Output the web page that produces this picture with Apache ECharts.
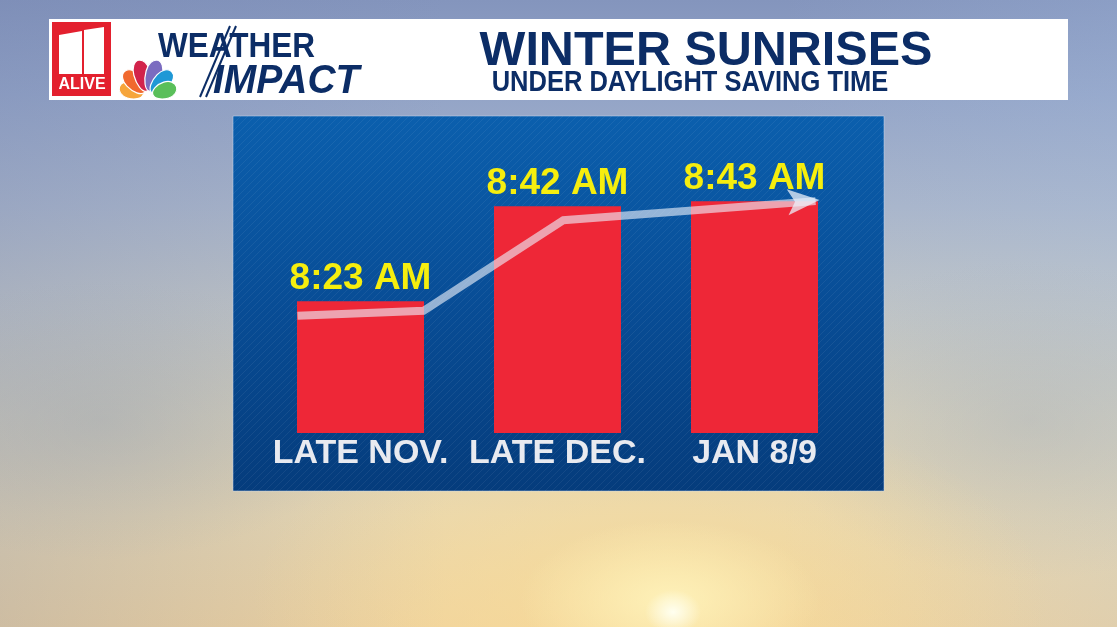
<!DOCTYPE html>
<html>
<head>
<meta charset="utf-8">
<script src="https://cdn.jsdelivr.net/npm/echarts@6/dist/echarts.min.js"></script>
<style>
html,body{margin:0;padding:0;width:1117px;height:627px;overflow:hidden;}
#chart{width:1117px;height:627px;
background:
 radial-gradient(ellipse 28px 22px at 673px 612px, rgba(255,255,240,1), rgba(255,250,215,0) 100%),
 radial-gradient(ellipse 150px 80px at 670px 600px, rgba(255,245,190,0.85), rgba(255,240,180,0) 100%),
 radial-gradient(ellipse 400px 200px at 650px 600px, rgba(252,222,150,0.7), rgba(252,222,150,0) 100%),
 radial-gradient(ellipse 260px 140px at 100px 420px, rgba(150,160,175,0.35), rgba(150,160,175,0) 100%),
 radial-gradient(ellipse 260px 160px at 1030px 420px, rgba(160,168,180,0.35), rgba(160,168,180,0) 100%),
 linear-gradient(to right, rgba(110,125,170,0.25) 0%, rgba(255,255,255,0) 40%, rgba(255,255,255,0) 70%, rgba(170,195,230,0.2) 100%),
 linear-gradient(to bottom, #8495bd 0%, #93a4c7 15%, #a9b5ca 33%, #c1c5c5 50%, #d9d2bb 66%, #e8d7b0 82%, #eed29f 100%);
}
</style>
</head>
<body>
<div id="chart"></div>
<script>
// ---- data ----
const categories = ['LATE NOV.', 'LATE DEC.', 'JAN 8/9'];
const sunriseMinutes = [503, 522, 523];          // minutes after midnight: 8:23, 8:42, 8:43
const trendX = [0.18, 0.82, 1.53, 2.81];          // arrow path, in category units
const trendY = [500.1, 501.1, 519.2, 523.0];      // arrow path, in minutes after midnight
const titleText = 'WINTER SUNRISES';
const subtitleText = 'UNDER DAYLIGHT SAVING TIME';

function fmtTime(v){
  const h = Math.floor(v / 60), m = v % 60;
  return h + ':' + String(m).padStart(2, '0') + ' AM';
}

const chart = echarts.init(document.getElementById('chart'), null, {renderer:'canvas'});

// hatch pattern for the panel
const pc = document.createElement('canvas');
pc.width = 7; pc.height = 7;
const pctx = pc.getContext('2d');
pctx.strokeStyle = 'rgba(255,255,255,0.06)';
pctx.lineWidth = 1;
pctx.beginPath(); pctx.moveTo(0,7); pctx.lineTo(7,0); pctx.stroke();

// peacock feathers
const feathers = [];
const fColors = ['#f6a53b', '#f1692f', '#d2234b', '#7b6cc0', '#1f98d6', '#5abf5a'];
const fAngles = [-72, -44, -15, 15, 44, 72];
const fLen = [30, 34, 37, 37, 34, 30];
const bx = 148, by = 96;
fAngles.forEach((a, i) => {
  const r = a * Math.PI / 180;
  const dx = Math.sin(r), dy = -Math.cos(r);
  const nx = Math.cos(r), ny = Math.sin(r);
  const L = fLen[i], w = 8.3;
  const pts = [
    [bx + dx*5, by + dy*5],
    [bx + dx*L*0.64 + nx*w, by + dy*L*0.64 + ny*w],
    [bx + dx*L, by + dy*L],
    [bx + dx*L*0.64 - nx*w, by + dy*L*0.64 - ny*w]
  ];
  feathers.push({type:'polygon', shape:{points:pts, smooth:0.55}, style:{fill:fColors[i], stroke:'#ffffff', lineWidth:1.2}, z:3});
});

const navy = '#0c2d66';

const graphics = [
  // header bar
  {type:'rect', shape:{x:49, y:19, width:1019, height:81}, style:{fill:'#ffffff'}, z:1},
  // 11 ALIVE logo
  {type:'rect', shape:{x:52, y:22, width:59, height:74}, style:{fill:'#e3202e'}, z:2},
  {type:'polygon', shape:{points:[[59,35],[82,31],[82,74],[59,74]]}, style:{fill:'#ffffff'}, z:3},
  {type:'polygon', shape:{points:[[84,30],[104,27],[104,74],[84,74]]}, style:{fill:'#ffffff'}, z:3},
  {type:'text', x:82, y:85, style:{text:'ALIVE', x:0, y:0, align:'center', verticalAlign:'middle', fill:'#ffffff', font:'bold 16px "Liberation Sans", Arial, sans-serif'}, z:3},
  // WEATHER IMPACT
  {type:'text', x:158, y:47, scaleX:0.9, style:{text:'WEATHER', x:0, y:0, align:'left', verticalAlign:'middle', fill:navy, font:'bold 35px "Liberation Sans", Arial, sans-serif'}, z:3},
  {type:'text', x:213, y:82, scaleX:0.95, style:{text:'IMPACT', x:0, y:0, align:'left', verticalAlign:'middle', fill:navy, font:'italic bold 41px "Liberation Sans", Arial, sans-serif'}, z:3},
  {type:'line', shape:{x1:200, y1:97, x2:230, y2:26}, style:{stroke:navy, lineWidth:2}, z:3},
  {type:'line', shape:{x1:206, y1:97, x2:236, y2:26}, style:{stroke:navy, lineWidth:2}, z:3},
  // title
  {type:'text', x:706, y:51, scaleX:0.99, style:{text:titleText, x:0, y:0, align:'center', verticalAlign:'middle', fill:navy, font:'bold 49px "Liberation Sans", Arial, sans-serif'}, z:3},
  {type:'text', x:690, y:83, scaleX:0.85, style:{text:subtitleText, x:0, y:0, align:'center', verticalAlign:'middle', fill:navy, font:'bold 30px "Liberation Sans", Arial, sans-serif'}, z:3},
  // panel
  {type:'rect', shape:{x:233, y:116, width:651, height:375},
   style:{fill:new echarts.graphic.LinearGradient(0,0,0,1,[
     {offset:0, color:'#0b5fad'},{offset:0.5, color:'#084d96'},{offset:1, color:'#053c7c'}]),
     stroke:'rgba(200,215,240,0.5)', lineWidth:1}, z:-10},
  {type:'rect', shape:{x:233, y:116, width:651, height:375},
   style:{fill:{image:pc, repeat:'repeat'}}, z:-9, silent:true}
].concat(feathers);

const option = {
  animation:false,
  backgroundColor:'transparent',
  graphic:{elements:graphics},
  grid:{left:262, right:264, top:116, bottom:194, containLabel:false},
  xAxis:[
    {type:'category', data:categories,
     axisLine:{show:false}, axisTick:{show:false}, splitLine:{show:false},
     axisLabel:{interval:0, hideOverlap:false, color:'#e8eaf0', fontSize:34, fontWeight:'bold', fontFamily:'"Liberation Sans", Arial, sans-serif', margin:4}},
    {type:'value', min:0, max:3, show:false}
  ],
  yAxis:{type:'value', min:476.7, max:540, show:false},
  series:[
    {type:'bar', xAxisIndex:0, data:sunriseMinutes, barWidth:127,
     itemStyle:{color:'#ee2737'},
     label:{show:true, position:'top', distance:4, color:'#f6ee0e', fontSize:37, fontWeight:'bold',
            fontFamily:'"Liberation Sans", Arial, sans-serif',
            formatter:p => fmtTime(p.value)},
     z:2},
    {type:'line', xAxisIndex:1, z:5,
     symbol:'none',
     data:trendX.map((x, i) => {
       const item = {value:[x, trendY[i]]};
       if (i === trendX.length - 1) {
         item.symbol = 'path://M0,0 L30,12 L0,24 L7,12 Z';
         item.symbolSize = [32, 26];
         item.symbolRotate = 4;
         item.symbolOffset = [-12, 0];
         item.itemStyle = {color:'rgba(235,240,250,0.75)'};
       }
       return item;
     }),
     lineStyle:{color:'rgba(235,240,250,0.62)', width:8, join:'miter'},
     itemStyle:{color:'rgba(235,240,250,0.75)'}
    }
  ]
};
chart.setOption(option);
</script>
</body>
</html>
